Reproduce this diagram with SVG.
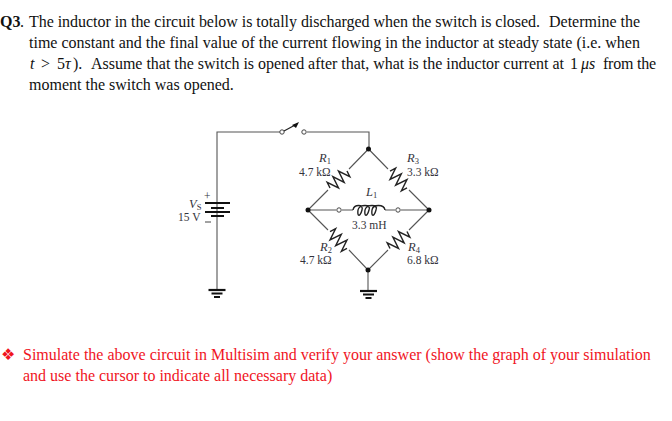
<svg xmlns="http://www.w3.org/2000/svg" width="672" height="421" viewBox="0 0 672 421">
<style>
text{font-family:"Liberation Serif","Times New Roman",serif;white-space:pre}
.q{font-size:16px;fill:#111}
.r{font-size:16px;fill:#f0141e}
.l{font-size:11.500px;fill:#33333b}
.n{font-size:12.500px}
.i{font-style:italic}
.s{font-size:8.500px}
.w{fill:none;stroke:#555;stroke-width:1.1}
.z{fill:none;stroke:#222;stroke-width:1.4}
.t{fill:#fff;stroke:#444;stroke-width:1}
.d{fill:#111}
.b{stroke:#111;fill:none}
</style>
<defs>
<polyline id="zig" class="z" points="-12,0 -10,-6 -6,6 -2,-6 2,6 6,-6 10,6 12,0"/>
<g id="gnd" class="b"><path d="M-8.500,0H8.500" stroke-width="2.200"/><path d="M-5.500,3.500H5.500" stroke-width="2"/><path d="M-3,7H3" stroke-width="2"/></g>
</defs>
<g id="question">
<text class="q" x="0" y="27" font-weight="bold">Q3</text>
<text class="q" x="20" y="27">.</text>
<text class="q" x="29" y="27" textLength="511">The inductor in the circuit below is totally discharged when the switch is closed.</text>
<text class="q" x="549" y="27">Determine the</text>
<text class="q" x="29" y="48">time constant and the final value of the current flowing in the inductor at steady state (i.e. when</text>
<text class="q i" x="30" y="69" font-size="17px">t</text>
<text class="q" x="41" y="69" font-size="17px">&gt;</text>
<text class="q" x="57" y="69" font-size="17px">5</text>
<text class="q i" x="65" y="69" font-size="17px">τ</text>
<text class="q" x="73" y="69">).</text>
<text class="q" x="91" y="69" textLength="473">Assume that the switch is opened after that, what is the inductor current at</text>
<text class="q" x="570" y="69">1</text>
<text class="q i" x="581" y="69" font-size="17px">μs</text>
<text class="q" x="603" y="69" textLength="53">from the</text>
<text class="q" x="29" y="90">moment the switch was opened.</text>
</g>
<g id="connectors">
<path class="w" d="M282,132H217V290"/>
<path class="w" d="M307,132H369V149"/>
<path class="w" d="M368.500,149L349,169M328,190L308,210"/>
<path class="w" d="M368.500,149L388,169M409,190L429,210"/>
<path class="w" d="M308,210L328,230M349,250L368,270"/>
<path class="w" d="M429,210L409,230M388,250L368,270"/>
<path class="w" d="M308,210H336M342,210H353M385,210H395M401,210H429"/>
<path class="w" d="M368,270V291"/>
</g>
<g id="switch">
<circle class="t" cx="282" cy="132" r="2.200"/>
<circle class="t" cx="304" cy="132" r="2.200"/>
<path d="M284,131L297,124" stroke="#222" stroke-width="1.200"/>
<path d="M292,125L299,122L296,128Z" fill="#111"/>
</g>
<g id="source">
<path class="b" d="M205,203H230" stroke-width="2"/>
<path class="b" d="M211,208H224" stroke-width="2"/>
<path class="b" d="M205,212H230" stroke-width="2"/>
<path class="b" d="M211,216H224" stroke-width="2"/>
<text class="l" x="204" y="200">+</text>
<path d="M205,222H211" stroke="#444" stroke-width="1"/>
<text class="l i n" x="189" y="208">V<tspan class="s" font-style="normal" dy="2">S</tspan></text>
<text class="l" x="178" y="221">15 V</text>
</g>
<g id="nodes">
<circle class="d" cx="368.500" cy="149" r="2.500"/>
<circle class="d" cx="308" cy="210" r="2.500"/>
<circle class="d" cx="429" cy="210" r="2.500"/>
<circle class="d" cx="368" cy="270" r="2.500"/>
</g>
<g id="R1"><use href="#zig" transform="translate(338.500,179.500) rotate(135)"/><text class="l i n" x="319" y="162">R<tspan class="s" font-style="normal" dy="2">1</tspan></text><text class="l" x="299" y="175.500">4.7 kΩ</text></g>
<g id="R3"><use href="#zig" transform="translate(398.500,179.500) rotate(45)"/><text class="l i n" x="407" y="162">R<tspan class="s" font-style="normal" dy="2">3</tspan></text><text class="l" x="407" y="175.500">3.3 kΩ</text></g>
<g id="R2"><use href="#zig" transform="translate(338.500,240) rotate(45)"/><text class="l i n" x="320" y="251">R<tspan class="s" font-style="normal" dy="2">2</tspan></text><text class="l" x="300" y="264">4.7 kΩ</text></g>
<g id="R4"><use href="#zig" transform="translate(398.500,240) rotate(135)"/><text class="l i n" x="408" y="251">R<tspan class="s" font-style="normal" dy="2">4</tspan></text><text class="l" x="407" y="264">6.8 kΩ</text></g>
<g id="L1">
<circle class="t" cx="339" cy="210" r="2.200"/>
<circle class="t" cx="398" cy="210" r="2.200"/>
<path class="z" d="M353,210C354,204 364,204 362,210C360,217 357,217 358,210C359,204 372,204 369,210C367,217 364,217 365,210C366,204 379,204 376,210C374,217 371,217 372,210C373,204 384,204 385,210"/>
<text class="l i n" x="366" y="196">L<tspan class="s" font-style="normal" dy="2">1</tspan></text>
<text class="l" x="352" y="229">3.3 mH</text>
</g>
<g id="grounds">
<use href="#gnd" transform="translate(217,290)"/>
<use href="#gnd" transform="translate(368.500,291)"/>
</g>
<g id="note">
<text class="r" x="1" y="360" font-size="13" style="font-family:'DejaVu Sans',sans-serif">❖</text>
<text class="r" x="23" y="360">Simulate the above circuit in Multisim and verify your answer (show the graph of your simulation</text>
<text class="r" x="23" y="381">and use the cursor to indicate all necessary data)</text>
</g>
</svg>
